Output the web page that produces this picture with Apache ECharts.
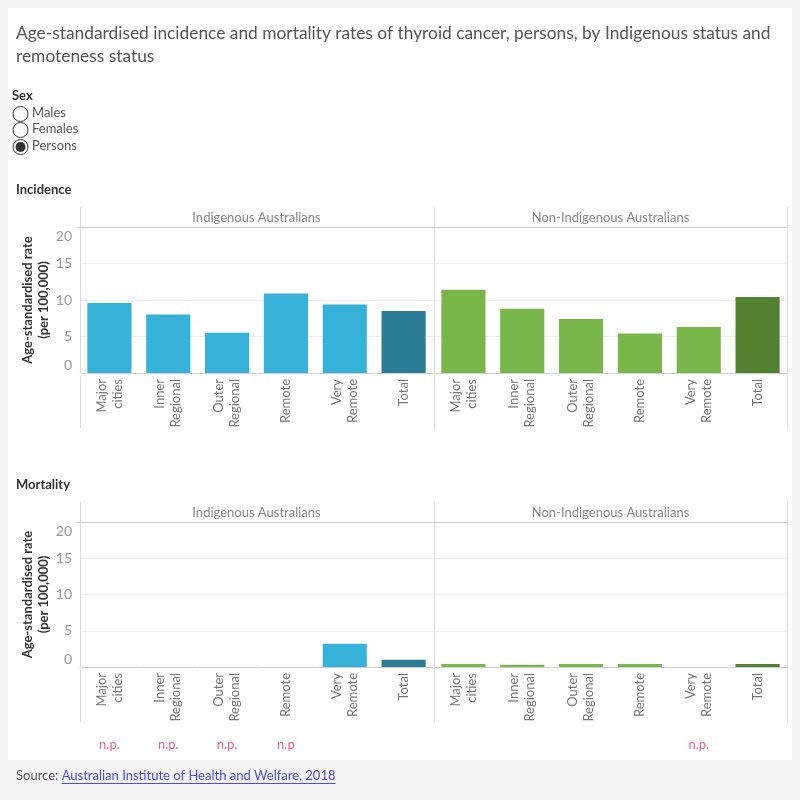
<!DOCTYPE html>
<html>
<head>
<meta charset="utf-8">
<script src="https://cdn.jsdelivr.net/npm/echarts@6/dist/echarts.min.js"></script>
<style>html,body{margin:0;padding:0;background:#f4f4f4;}#c{width:800px;height:800px;}</style>
</head>
<body>
<div id="c"></div>
<script>
// ---- data ----
const categories = ['Major\ncities', 'Inner\nRegional', 'Outer\nRegional', 'Remote', 'Very\nRemote', 'Total'];
const incidenceIndigenous = [9.6, 8.0, 5.5, 10.9, 9.4, 8.5];
const incidenceNonIndigenous = [11.4, 8.8, 7.4, 5.4, 6.3, 10.4];
const mortalityIndigenous = [null, null, null, null, 3.2, 1.0];
const mortalityNonIndigenous = [0.4, 0.3, 0.4, 0.4, null, 0.4];
const mortalityIndigenousNote = ['n.p.', 'n.p.', 'n.p.', 'n.p', null, null];
const mortalityNonIndigenousNote = [null, null, null, null, 'n.p.', null];
const panelNames = ['Indigenous Australians', 'Non-Indigenous Australians'];
const yMin = 0, yMax = 20, yInterval = 5;

// ---- styling ----
const FONT = 'Lato, "Noto Sans", sans-serif';
const colIndig = '#35b1da', colIndigTotal = '#2a7b96';
const colNon = '#7ab74a', colNonTotal = '#528230';
const TITLE = 'Age-standardised incidence and mortality rates of thyroid cancer, persons, by Indigenous status and\nremoteness status';

const cv = document.createElement('canvas').getContext('2d');
function measure(txt, size, weight) { cv.font = (weight || 'normal') + ' ' + size + 'px ' + FONT; return cv.measureText(txt).width; }
const titleSize = Math.min(19, 17 * 755 / measure(TITLE.split('\n')[0], 17));

const G = [
  {left: 80, top: 227, width: 353, height: 146},
  {left: 434, top: 227, width: 353, height: 146},
  {left: 80, top: 522, width: 353, height: 145},
  {left: 434, top: 522, width: 353, height: 145}
];

function colored(arr, c, cTotal) {
  return arr.map((v, i) => ({value: v, itemStyle: {color: i === arr.length - 1 ? cTotal : c}}));
}

const chart = echarts.init(document.getElementById('c'), null, {renderer: 'canvas'});

const xAxes = G.map((g, i) => ({
  type: 'category', gridIndex: i, data: categories,
  axisLine: {show: true, lineStyle: {color: '#cfcfcf', width: 1}},
  axisTick: {show: true, length: 3, lineStyle: {color: '#f0f0f0'}},
  axisLabel: {rotate: 90, color: '#777', fontSize: 13, fontFamily: FONT, lineHeight: 16, margin: 6, interval: 0}
}));

const yAxes = G.map((g, i) => ({
  type: 'value', gridIndex: i, min: yMin, max: yMax, interval: yInterval,
  name: i % 2 === 0 ? 'Age-standardised rate\n(per 100,000)' : '',
  nameLocation: 'middle', nameGap: 27,
  nameTextStyle: {color: '#333', fontSize: 13, fontWeight: 'bold', fontFamily: FONT, lineHeight: 16},
  axisLine: {show: false}, axisTick: {show: false},
  axisLabel: {
    show: i % 2 === 0, color: '#999', fontSize: 14, fontFamily: FONT, margin: 8,
    formatter: v => v === yMin ? '{lo|' + v + '}' : (v === yMax ? '{hi|' + v + '}' : '{m|' + v + '}'),
    rich: {
      lo: {color: '#999', fontSize: 14, fontFamily: FONT, padding: [0, 0, 16, 0]},
      hi: {color: '#999', fontSize: 14, fontFamily: FONT, padding: [18, 0, 0, 0]},
      m: {color: '#999', fontSize: 14, fontFamily: FONT}
    }
  },
  splitLine: {show: true, lineStyle: {color: '#efefef', width: 1}}
}));

const seriesData = [
  colored(incidenceIndigenous, colIndig, colIndigTotal),
  colored(incidenceNonIndigenous, colNon, colNonTotal),
  colored(mortalityIndigenous, colIndig, colIndigTotal),
  colored(mortalityNonIndigenous, colNon, colNonTotal)
];

const series = seriesData.map((d, i) => ({
  type: 'bar', xAxisIndex: i, yAxisIndex: i, data: d, barCategoryGap: '25%', silent: true
}));

function staticGraphics() {
  const els = [];
  els.push({type: 'rect', shape: {x: 8, y: 8, width: 784, height: 752}, style: {fill: '#ffffff'}, z: -10});
  els.push({type: 'text', left: 16, top: 22, style: {
    text: TITLE, fill: '#555', fontSize: titleSize, fontFamily: FONT, lineHeight: 23}});
  els.push({type: 'text', left: 12, top: 89, style: {text: 'Sex', fill: '#333', fontSize: 13, fontWeight: 'bold', fontFamily: FONT}});
  const radios = ['Males', 'Females', 'Persons'];
  const ry = [114, 130, 147];
  radios.forEach((r, k) => {
    els.push({type: 'circle', shape: {cx: 20.5, cy: ry[k], r: 7.5}, style: {fill: '#fff', stroke: '#333', lineWidth: 1}});
    if (k === 2) els.push({type: 'circle', shape: {cx: 20.5, cy: ry[k], r: 5}, style: {fill: '#333'}});
    els.push({type: 'text', x: 32, y: ry[k] - 1, style: {text: r, fill: '#555', fontSize: 13, fontFamily: FONT, verticalAlign: 'middle'}});
  });
  els.push({type: 'text', x: 16, y: 190, style: {text: 'Incidence', fill: '#333', fontSize: 13, fontWeight: 'bold', fontFamily: FONT, verticalAlign: 'middle'}});
  els.push({type: 'text', x: 16, y: 485, style: {text: 'Mortality', fill: '#333', fontSize: 13, fontWeight: 'bold', fontFamily: FONT, verticalAlign: 'middle'}});
  // panel frames
  [[0, 1], [2, 3]].forEach(([a, b]) => {
    const ga = G[a], gb = G[b];
    const top = ga.top - 20, bottom = ga.top + ga.height + 55;
    [ga.left, gb.left - 0.5, gb.left + gb.width].forEach(x => {
      els.push({type: 'line', shape: {x1: Math.round(x) + 0.5, y1: top, x2: Math.round(x) + 0.5, y2: bottom}, style: {stroke: '#dcdcdc', lineWidth: 1}});
    });
    els.push({type: 'line', shape: {x1: ga.left - 3, y1: ga.top + 0.5, x2: gb.left + gb.width, y2: ga.top + 0.5}, style: {stroke: '#cccccc', lineWidth: 1}});
    [ga, gb].forEach((g, k) => {
      els.push({type: 'text', x: g.left + g.width / 2, y: g.top - 9, style: {
        text: panelNames[k], fill: '#888', fontSize: 13, fontFamily: FONT, align: 'center', verticalAlign: 'middle'}});
    });
  });
  return els;
}

chart.setOption({
  backgroundColor: '#f4f4f4',
  animation: false,
  grid: G.map(g => Object.assign({containLabel: false}, g)),
  xAxis: xAxes,
  yAxis: yAxes,
  series: series,
  graphic: staticGraphics()
});

// n.p. notes under the mortality categories, positioned through the axes
const extra = [];
[[mortalityIndigenousNote, 2], [mortalityNonIndigenousNote, 3]].forEach(([notes, gi]) => {
  notes.forEach((n, i) => {
    if (!n) return;
    const p = chart.convertToPixel({xAxisIndex: gi, yAxisIndex: gi}, [i, 0]);
    extra.push({type: 'text', x: p[0], y: 745, style: {text: n, fill: '#f0608a', fontSize: 13, fontFamily: FONT, align: 'center', verticalAlign: 'middle'}});
  });
});
// source line
const srcLabel = 'Source: ';
const srcLink = 'Australian Institute of Health and Welfare, 2018';
const srcSize = 13;
const labW = measure(srcLabel, srcSize);
const linkW = measure(srcLink, srcSize);
extra.push({type: 'text', x: 16, y: 776, style: {text: srcLabel, fill: '#555', fontSize: srcSize, fontFamily: FONT, verticalAlign: 'middle'}});
extra.push({type: 'text', x: 16 + labW, y: 776, style: {text: srcLink, fill: '#4b4bf0', fontSize: srcSize, fontFamily: FONT, verticalAlign: 'middle'}});
extra.push({type: 'line', shape: {x1: 16 + labW, y1: 783.5, x2: 16 + labW + linkW, y2: 783.5}, style: {stroke: '#4b4bf0', lineWidth: 1}});
chart.setOption({graphic: staticGraphics().concat(extra)}, {replaceMerge: ['graphic']});
</script>
</body>
</html>
